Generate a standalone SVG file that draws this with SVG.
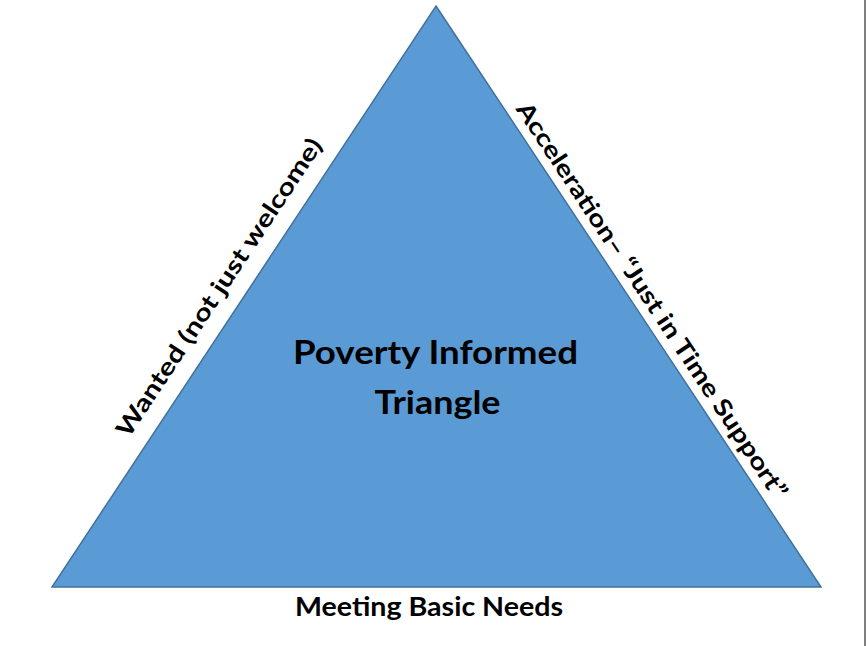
<svg xmlns="http://www.w3.org/2000/svg" width="866" height="646" viewBox="0 0 866 646">
  <style>
    .lbl { font-family: Lato, "Open Sans", "Liberation Sans", sans-serif; font-weight: bold; fill: #000000; }
    .side { font-size: 24px; }
    .title { font-size: 33px; }
    .base { font-size: 26px; }
  </style>
  <rect x="0" y="0" width="866" height="646" fill="#ffffff"/>
  <line x1="865" y1="0" x2="865" y2="646" stroke="#7f7f7f" stroke-width="2"/>
  <g id="triangle">
    <polygon points="436,6 821,587 52,587" fill="#5B9BD5" stroke="#41719C" stroke-width="1.5" stroke-linejoin="miter"/>
    <text class="lbl title" x="435.5" y="364" text-anchor="middle" textLength="285" lengthAdjust="spacingAndGlyphs">Poverty Informed</text>
    <text class="lbl title" x="437.5" y="414" text-anchor="middle" textLength="126" lengthAdjust="spacingAndGlyphs">Triangle</text>
  </g>
  <g id="label-left">
    <text class="lbl side" transform="translate(226,292) rotate(-56.5)" text-anchor="middle" textLength="352" lengthAdjust="spacingAndGlyphs">Wanted (not just welcome)</text>
  </g>
  <g id="label-right">
    <text class="lbl side" transform="translate(645,305) rotate(56.5)" text-anchor="middle" textLength="470" lengthAdjust="spacingAndGlyphs">Acceleration– “Just in Time Support”</text>
  </g>
  <g id="label-bottom">
    <text class="lbl base" x="429" y="616" text-anchor="middle" textLength="268" lengthAdjust="spacingAndGlyphs">Meeting Basic Needs</text>
  </g>
</svg>
